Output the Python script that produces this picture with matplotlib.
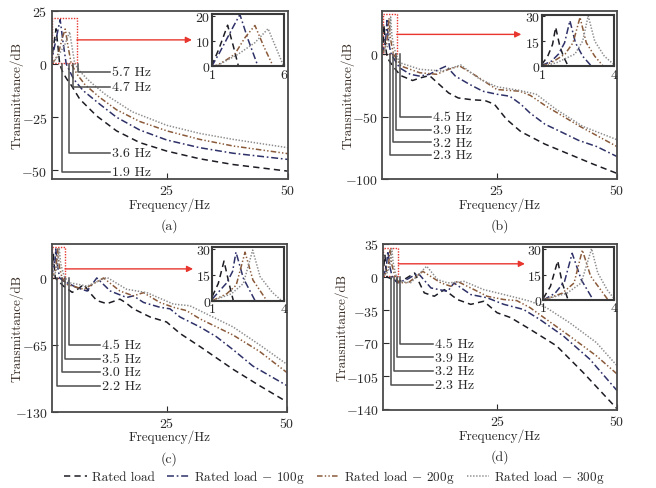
import matplotlib
matplotlib.use('Agg')
import matplotlib.pyplot as plt
from matplotlib.patches import Rectangle

plt.rcParams['font.family'] = 'serif'
plt.rcParams['font.serif'] = ['cmr10']
plt.rcParams['mathtext.fontset'] = 'cm'
plt.rcParams['axes.formatter.use_mathtext'] = True
plt.rcParams['lines.scale_dashes'] = False

W, H = 656, 489

series_names = ['Rated load', 'Rated load $-$ 100g', 'Rated load $-$ 200g', 'Rated load $-$ 300g']

# ---- panel (a) ----
fa_0 = [1.0, 1.5, 2.1, 2.5, 2.85, 3.5, 4.3, 5.3, 7.0, 10.5, 14.6, 19.4, 25, 31.8, 38.7, 50]
da_0 = [0.2, 7, 16.5, 8, 0, -4, -7, -10.2, -16.5, -24.4, -31.4, -36.9, -40.9, -44.5, -47.2, -50.3]
fa_1 = [1.0, 1.5, 2.0, 2.5, 2.95, 3.5, 4.2, 5.7, 7.7, 11.2, 14.6, 19.4, 25, 31.8, 38.7, 50]
da_1 = [0, 5, 10.5, 16, 20.8, 11, 0, -7, -12.5, -19, -25, -31, -35.7, -39.3, -41.9, -44.8]
fa_2 = [1.0, 1.4, 2.0, 2.6, 3.3, 3.99, 4.6, 5.25, 6.5, 8, 11, 14.6, 19.4, 25, 31.8, 38.7, 50]
da_2 = [0, 0.5, 2.5, 4.9, 11.5, 16.4, 8, 0, -5, -9.5, -15.5, -21.5, -27, -31.4, -35.4, -38.5, -42.1]
fa_3 = [1.0, 1.3, 2.84, 3.99, 4.9, 5.98, 7.05, 8.5, 10, 12.4, 17.9, 25, 31.8, 38.7, 50]
da_3 = [0, 0, 4.9, 9.5, 15.1, 0, -3.5, -7, -10, -14.5, -22.5, -28.8, -32.6, -35.4, -39.3]
labels_a = ['5.7 Hz', '4.7 Hz', '3.6 Hz', '1.9 Hz']

# ---- panel (b) ----
fb_0 = [1.0, 1.25, 1.45, 1.58, 1.75, 1.9, 2.1, 2.6, 3.5, 5, 7.5, 9, 11, 13, 15, 17, 20, 22.5, 24.5, 27, 30, 35, 40, 45, 50]
db_0 = [1, 6, 13, 23.2, 12, 6, 0, -5, -10, -17, -21, -19, -17, -24, -31, -35, -36.5, -37, -40, -52, -62, -72, -80, -88, -95.5]
fb_1 = [1.0, 1.4, 1.7, 1.95, 2.17, 2.4, 2.7, 3.07, 4.8, 7, 9, 11, 13, 14.5, 16.4, 19.3, 22.1, 25, 27.7, 30, 31.9, 35, 38.8, 42, 45.8, 50]
db_1 = [0.5, 3, 7.3, 14, 27.1, 14, 6, 0, -10.8, -16, -17.5, -16, -12, -9.4, -17.5, -24, -29.6, -32, -33.6, -40, -47, -56, -63, -69, -74, -82]
fb_2 = [1.0, 1.5, 1.97, 2.3, 2.59, 2.85, 3.2, 3.56, 5.1, 9, 12.5, 15, 17.3, 20.8, 25, 29.8, 32, 35.3, 42.3, 50]
db_2 = [0, 3, 7.3, 14, 29.1, 14, 6, 0, -9.4, -14.8, -16, -12, -9.4, -17.5, -28.2, -29.6, -33, -41.7, -57.8, -74]
fb_3 = [1.0, 1.6, 2.38, 2.7, 2.93, 3.2, 3.6, 4.0, 4.8, 9, 13.7, 17.5, 21.5, 25, 29.8, 33.2, 37.3, 42.9, 50]
db_3 = [0, 2, 7.3, 15, 30, 15, 6, 1, -6.7, -12, -13.4, -8.5, -20, -26, -29, -32, -44, -57.8, -68.5]
labels_b = ['4.5 Hz', '3.9 Hz', '3.2 Hz', '2.3 Hz']

# ---- panel (c) ----
fc_0 = [1.0, 1.25, 1.49, 1.7, 1.88, 3.6, 5.4, 6.5, 7.8, 9, 10.5, 12.6, 15.3, 16.5, 18.1, 21.6, 25, 27.8, 31.9, 38.8, 44.3, 50]
dc_0 = [2.5, 10, 23, 10, 0, -8, -14, -11, -6.3, -14, -22, -25, -20.6, -24, -30, -38, -42.8, -54, -66.6, -88.8, -104.7, -120.5]
fc_1 = [1.0, 1.6, 1.85, 1.99, 2.3, 2.79, 3.6, 6.4, 8.5, 10.5, 13.3, 16.7, 18.1, 20.2, 23.6, 25.7, 27.8, 31.9, 35.3, 38.8, 42.9, 50]
dc_1 = [1, 10.3, 17, 28.2, 13, 0, -3, -9.5, -12.7, 0, -12.7, -19, -17.4, -23.8, -28.5, -30, -38, -47.6, -57, -69.7, -85.6, -104.7]
fc_2 = [1.0, 1.6, 2.0, 2.37, 2.7, 3.28, 4.3, 7.8, 11.9, 15.3, 18.1, 20.2, 23.6, 26.4, 29.1, 31.9, 38.8, 44.3, 50]
dc_2 = [0, 4, 9, 28.2, 12, 0, -6.3, -11, 0, -12.7, -17.4, -14.3, -23.8, -28.5, -31.7, -39.7, -55.5, -71.4, -92]
fc_3 = [1.0, 1.8, 2.3, 2.69, 3.0, 3.5, 3.9, 5, 8.5, 12.6, 16.7, 20.9, 26.4, 29.8, 33.3, 38.8, 44.3, 50]
dc_3 = [0, 4, 10, 29.4, 14, 5, 0, -4.8, -7.9, 0.6, -11, -14.3, -25.4, -27, -35, -47.6, -65, -84]
labels_c = ['4.5 Hz', '3.5 Hz', '3.0 Hz', '2.2 Hz']

# ---- panel (d) ----
fd_0 = [1.0, 1.3, 1.61, 1.8, 2.05, 3.0, 4.2, 5.5, 7.8, 9.8, 11.9, 14, 16.7, 19.5, 22.2, 25, 27.8, 31.9, 37.4, 42.9, 50]
dd_0 = [1, 8, 23, 10, 0, -2, -5, -3, 4.2, -16.8, -20.4, -13.4, -23.9, -29, -25.7, -37.9, -43, -55.5, -73, -101, -139.7]
fd_1 = [1.0, 1.5, 1.9, 2.22, 2.6, 3.11, 4.2, 6.4, 8.5, 11.2, 14.7, 16, 19.5, 22.9, 26.4, 30.5, 33.9, 38.8, 44.3, 50]
dd_1 = [0, 4, 11, 27.5, 12, 0, -6.3, -2, 4.2, -11.6, -15.2, -6.3, -18.6, -22, -29, -34.4, -45, -62.5, -87, -120.4]
fd_2 = [1.0, 1.8, 2.3, 2.65, 3.0, 3.74, 4.5, 6.5, 9.5, 13.3, 15.4, 16.7, 20.2, 22.9, 26.4, 29.1, 31.9, 35.3, 40.1, 45.7, 50]
dd_2 = [0, 4, 10, 29.4, 14, 0, -6, -6, 6, -6.3, -9.9, -4.6, -13.4, -20.4, -23.9, -25, -32.6, -45, -62.5, -83.6, -102.8]
fd_3 = [1.0, 2.0, 2.6, 3.04, 3.3, 3.7, 3.95, 4.8, 7, 10.3, 12.6, 14.7, 18.1, 22.2, 25, 29.1, 31.9, 35.3, 40.1, 45.7, 50]
dd_3 = [0, 4, 10, 30.2, 16, 6, 1.5, -5, -6, 11.5, -2.8, -6.3, -4.6, -13.4, -16.8, -22, -25.7, -32.6, -48.4, -69.5, -94]
labels_d = ['4.5 Hz', '3.9 Hz', '3.2 Hz', '2.3 Hz']

colors = ['#1c1c24', '#2e3168', '#8a5a3a', '#8c8c8c']
styles = [(0, (4.5, 3)), (0, (5, 2, 1.2, 2)), (0, (4, 1.6, 1, 1.6, 1, 1.6)), (0, (1, 1.2))]
red = '#e8362e'
frame = '#4a4a4a'
txt = '#2a2a2a'

fig = plt.figure(figsize=(W / 100, H / 100), dpi=100)


def px_axes(x0, y0, x1, y1):
    return fig.add_axes([x0 / W, 1 - y1 / H, (x1 - x0) / W, (y1 - y0) / H])


def fmt(v):
    return '$%g$' % v


def panel(box, inbox, curves, ylim, yticks, in_xlim, in_ylim, in_yticks, rect, arrow_end,
          ann_x, ann_y, ann_end, ann_labels, letter, ylab_off):
    ax = px_axes(*box)
    lines = []
    for (f, d), c, ls in zip(curves, colors, styles):
        ln, = ax.plot(f, d, color=c, linestyle=ls, lw=1.1)
        lines.append(ln)
    ax.set_xlim(1.2, 50)
    ax.set_ylim(*ylim)
    ax.set_xticks([25, 50], [fmt(t) for t in [25, 50]])
    ax.set_yticks(yticks, [fmt(t) for t in yticks])
    ax.tick_params(direction='in', length=4, width=0.8, labelsize=10, colors=txt, pad=3)
    for s in ax.spines.values():
        s.set_color(frame)
        s.set_linewidth(1.3)

    # annotation of resonance frequencies
    for x, y, lab in zip(ann_x, ann_y, ann_labels):
        ax.plot([x, x, ann_end], [0, y, y], color='#4d4d4d', lw=1.1)
        ax.annotate(lab, (ann_end, y), xytext=(1.5, 0), textcoords='offset points',
                    ha='left', va='center', fontsize=10, color=txt)

    # zoom rectangle and arrow
    x0, y0, x1, y1 = rect
    ax.add_patch(Rectangle((x0, y0), x1 - x0, y1 - y0, fill=False, ec=red,
                           ls=(0, (1, 1)), lw=1.0))
    ax.annotate('', xy=arrow_end, xytext=(x1, arrow_end[1]),
                arrowprops=dict(arrowstyle='-|>', color=red, lw=1.0,
                                mutation_scale=9, shrinkA=0, shrinkB=0))

    ai = px_axes(*inbox)
    for (f, d), c, ls in zip(curves, colors, styles):
        ai.plot(f, d, color=c, linestyle=ls, lw=1.1)
    ai.set_xlim(*in_xlim)
    ai.set_ylim(*in_ylim)
    ai.set_xticks(in_xlim, [fmt(t) for t in in_xlim])
    ai.set_yticks(in_yticks, [fmt(t) for t in in_yticks])
    ai.tick_params(direction='in', length=2.5, width=0.8, labelsize=10, colors=txt, pad=1)
    for s in ai.spines.values():
        s.set_color('#3a3a3a')
        s.set_linewidth(1.5)

    cx = (box[0] + box[2]) / 2
    fig.text(cx / W, 1 - (box[3] + 25) / H, 'Frequency/Hz', ha='center', va='center',
             fontsize=9.5, color=txt)
    fig.text(cx / W, 1 - (box[3] + 46) / H, letter, ha='center', va='center',
             fontsize=10, color=txt)
    fig.text((box[0] - ylab_off) / W, 1 - (box[1] + box[3]) / 2 / H, 'Transmittance/dB',
             rotation=90, ha='center', va='center', fontsize=9.5, color='#3a2e26')
    return lines


lines = panel((51.7, 11.7, 287.7, 180), (211.7, 15, 284, 67.3),
              [(fa_0, da_0), (fa_1, da_1), (fa_2, da_2), (fa_3, da_3)],
              (-54, 25), [25, 0, -25, -50], (1, 6), (0, 21), [0, 10, 20],
              (1.32, 0.3, 6.4, 21.5), (30.2, 11.3),
              [6.7, 5.66, 4.78, 3.27], [-3.9, -11, -42, -50.5], 13.2, labels_a, '(a)', 35)
panel((382.3, 11.7, 617, 180), (541.7, 16, 614, 67.3),
      [(fb_0, db_0), (fb_1, db_1), (fb_2, db_2), (fb_3, db_3)],
      (-100, 35), [0, -50, -100], (1, 4), (0, 30.5), [0, 15, 30],
      (1.3, 0, 4.2, 32.3), (30.1, 16),
      [4.8, 4.1, 3.4, 2.7], [-50.2, -60.5, -70.7, -80.6], 11.4, labels_b, '(b)', 35)
panel((52, 245, 287, 412.7), (212.3, 248.3, 284, 301.7),
      [(fc_0, dc_0), (fc_1, dc_1), (fc_2, dc_2), (fc_3, dc_3)],
      (-130, 33), [0, -65, -130], (1, 4), (0, 31), [0, 15, 30],
      (1.3, 0, 3.9, 30), (30.5, 8.8),
      [4.67, 3.84, 3.3, 2.27], [-65, -78.7, -91.3, -104.7], 11.2, labels_c, '(c)', 35)
panel((383, 245, 617, 411), (543.3, 248.3, 614.3, 301),
      [(fd_0, dd_0), (fd_1, dd_1), (fd_2, dd_2), (fd_3, dd_3)],
      (-141, 35), [35, 0, -35, -70, -105, -140], (1, 4), (0, 31), [0, 15, 30],
      (1.3, 1, 4.4, 30.5), (30.8, 14),
      [4.67, 4.13, 3.51, 2.81], [-71.3, -85.3, -100, -114], 11.6, labels_d, '(d)', 41)

fig.legend(lines, series_names, loc='center', bbox_to_anchor=(0.51, 1 - 478 / H), ncol=4,
           frameon=False, fontsize=9.5, handlelength=1.7, handletextpad=0.4,
           columnspacing=0.9, labelcolor=txt)

fig.savefig('out.png', dpi=100)
